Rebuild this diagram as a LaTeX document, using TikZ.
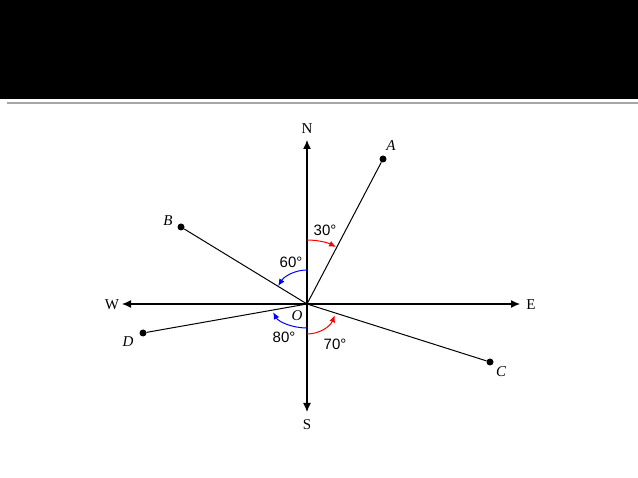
\documentclass[tikz,border=0pt]{standalone}
\usepackage{fontspec}
\setmainfont{Liberation Serif}
\setsansfont{Liberation Sans}
\usetikzlibrary{arrows.meta}
\begin{document}
\begin{tikzpicture}[x=1pt,y=-1pt,
  ax/.style={line width=1.2pt,-{Latex[length=9pt,width=8pt]}},
  ray/.style={line width=1pt},
  dot/.style={circle,fill=black,inner sep=0pt,minimum size=7pt},
  lbl/.style={font=\fontsize{15}{15}\selectfont},
  it/.style={font=\itshape\fontsize{15}{15}\selectfont},
  deg/.style={font=\sffamily\fontsize{15}{15}\selectfont},
  arcr/.style={red,line width=1pt,-{Latex[length=7pt,width=6pt]}},
  arcb/.style={blue,line width=1pt,-{Latex[length=7pt,width=6pt]}}]
\useasboundingbox (0,0) rectangle (638,478);
\fill[black] (0,0) rectangle (638,99);
\draw[gray!70,line width=1.2pt] (7,103) -- (638,103);
\coordinate (O) at (307,304);
\coordinate (Nt) at (307,140);
\coordinate (St) at (307,412);
\coordinate (Wt) at (122,304);
\coordinate (Et) at (520,304);
\draw[ax] (O) -- (Nt);
\draw[ax] (O) -- (St);
\draw[ax] (O) -- (Wt);
\draw[ax] (O) -- (Et);
\node[lbl] (N) at (307,129) {N};
\node[lbl] (S) at (307,425) {S};
\node[lbl] (W) at (112,305) {W};
\node[lbl] (E) at (531,305) {E};
\node[dot] (A) at (383,159) {};
\node[dot] (B) at (181,227) {};
\node[dot] (C) at (490,362) {};
\node[dot] (D) at (143,333) {};
\draw[ray] (O) -- (A);
\draw[ray] (O) -- (B);
\draw[ray] (O) -- (C);
\draw[ray] (O) -- (D);
\node[it] (Al) at (391,146) {A};
\node[it] (Bl) at (168,221) {B};
\node[it] (Cl) at (501,372) {C};
\node[it] (Dl) at (128,342) {D};
\node[it] (Ol) at (297,316) {O};
\draw[arcr] (O) ++(-90:64) arc[start angle=-90,end angle=-63,radius=64];
\draw[arcb] (O) ++(-90:34) arc[start angle=-90,end angle=-148,radius=34];
\draw[arcb] (307,328) arc[start angle=90,end angle=160,x radius=36,y radius=24];
\draw[arcr] (O) ++(90:30) arc[start angle=90,end angle=22,radius=30];
\node[deg] (d30) at (325,230) {30°};
\node[deg] (d60) at (291,262) {60°};
\node[deg] (d80) at (284,337) {80°};
\node[deg] (d70) at (335,344) {70°};
\end{tikzpicture}
\end{document}
